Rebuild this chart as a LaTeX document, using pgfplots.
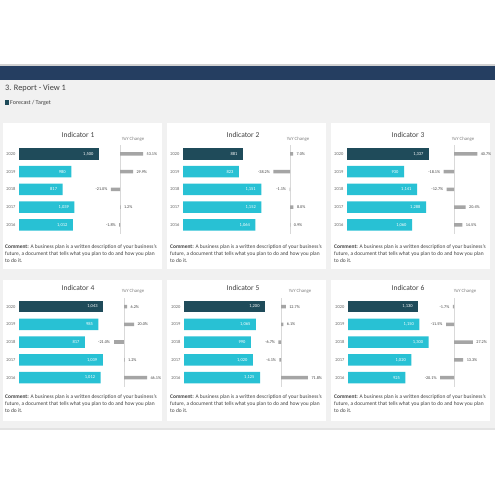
\documentclass[border=0pt]{standalone}
\usepackage{pgfplots}
\pgfplotsset{compat=1.18}
\usepackage{pgfplotstable}
\usepackage{fontspec}
\setmainfont{Carlito}

\definecolor{navy}{RGB}{37,62,97}
\definecolor{bgg}{RGB}{241,241,241}
\definecolor{darkbar}{RGB}{31,75,90}
\definecolor{cyanbar}{RGB}{40,193,212}
\definecolor{yoyg}{RGB}{165,165,165}
\definecolor{txt}{RGB}{64,64,64}

\pgfplotstableread{
y val yoy
4 1500 53.1
3 980 29.9
2 817 -21.0
1 1039 1.2
0 1012 -1.8
}\dataA
\pgfplotstableread{
y val yoy
4 881 7.0
3 823 -38.2
2 1151 -1.1
1 1152 8.0
0 1064 0.9
}\dataB
\pgfplotstableread{
y val yoy
4 1337 40.7
3 930 -18.1
2 1141 -12.7
1 1288 20.4
0 1060 14.5
}\dataC
\pgfplotstableread{
y val yoy
4 1043 6.2
3 985 20.0
2 817 -21.0
1 1039 1.2
0 1012 46.1
}\dataD
\pgfplotstableread{
y val yoy
4 1200 12.7
3 1065 6.1
2 990 -6.7
1 1020 -4.1
0 1125 71.8
}\dataE
\pgfplotstableread{
y val yoy
4 1130 -1.7
3 1150 -11.5
2 1300 27.2
1 1020 13.3
0 925 -20.1
}\dataF

\pgfplotsset{
 /pgf/number format/assume math mode=true,
 barax/.style={scale only axis, width=100pt, height=88.75pt, xmin=0, ymin=-0.5, ymax=4.5,
   xtick=\empty, ytick={0,1,2,3,4}, yticklabels={2016,2017,2018,2019,2020},
   yticklabel style={font=\fontsize{4.5}{5}\selectfont, text=txt!80},
   major tick length=0pt, axis line style={draw=none}, clip=false, anchor=north west},
 yoyax/.style={scale only axis, width=60pt, height=88.75pt, ymin=-0.5, ymax=4.5,
   hide axis, clip=false, anchor=north west},
 valbar/.style={xbar, bar width=11.5pt, bar shift=0pt, draw=none, point meta=x,
   nodes near coords={\pgfmathprintnumber[assume math mode=true,fixed,precision=0,1000 sep={,}]{\pgfplotspointmeta}},
   nodes near coords style={anchor=east, text=white, font=\fontsize{4.5}{5}\selectfont, xshift=-2pt}},
 yoypos/.style={xbar, bar width=3.5pt, bar shift=0pt, fill=yoyg, draw=none, point meta=x,
   restrict x to domain=0:1000,
   nodes near coords={\pgfmathprintnumber[assume math mode=true,fixed,fixed zerofill,precision=1]{\pgfplotspointmeta}\%},
   nodes near coords style={anchor=west, text=txt, font=\fontsize{4.2}{5}\selectfont}},
 yoyneg/.style={xbar, bar width=3.5pt, bar shift=0pt, fill=yoyg, draw=none, point meta=x,
   restrict x to domain=-1000:0,
   nodes near coords={\pgfmathprintnumber[assume math mode=true,fixed,fixed zerofill,precision=1]{\pgfplotspointmeta}\%},
   nodes near coords style={anchor=east, text=txt, font=\fontsize{4.2}{5}\selectfont}},
}

\newcommand{\panel}[7]{%
\begin{axis}[barax, at={(#2pt,#3pt)}, xmax=#4]
\addplot[valbar, fill=darkbar, restrict y to domain=3.5:4.5] table[x=val,y=y]{#1};
\addplot[valbar, fill=cyanbar, restrict y to domain=-0.5:3.5] table[x=val,y=y]{#1};
\end{axis}
\begin{axis}[yoyax, at={(#5pt,#3pt)}, xmin=#6, xmax=#7]
\addplot[gray!30, line width=0.7pt, mark=none] coordinates {(0,-0.5) (0,4.5)};
\addplot[yoypos] table[x=yoy,y=y]{#1};
\addplot[yoyneg] table[x=yoy,y=y]{#1};
\end{axis}}

\newcommand{\comment}{\textbf{Comment:} A business plan is a written description of your business's\\future, a document that tells what you plan to do and how you plan\\to do it.}

\begin{document}
\begin{tikzpicture}[x=1pt,y=1pt]
\useasboundingbox (0,0) rectangle (495,495);
\fill[white] (0,0) rectangle (495,495);
% header band and background
\fill[bgg] (0,67) rectangle (495,415);
\fill[gray!22] (0,64.5) rectangle (495,67);
\fill[navy] (0,415) rectangle (495,429);
\fill[gray!35] (0,429) rectangle (495,430.5);
\node[anchor=west, inner sep=0, font=\fontsize{8.3}{9}\selectfont, text=txt] at (5,407) {3. Report - View 1};
\fill[darkbar] (5,389.5) rectangle (8.5,395);
\node[anchor=west, inner sep=0, font=\fontsize{6}{7}\selectfont, text=txt] at (10,392.3) {Forecast / Target};
% cards
\foreach \cx in {3,167,331} {
  \fill[white] (\cx,226) rectangle ++(159,146);
  \fill[white] (\cx,74) rectangle ++(159,141);
}
% titles
\foreach \tx/\ty/\t in {78/360/1, 243/360/2, 408/360/3, 78/207/4, 243/207/5, 408/207/6}
  \node[font=\fontsize{7.5}{9}\selectfont, text=txt] at (\tx,\ty) {Indicator \t};
\foreach \tx/\ty in {133/356, 298/356, 463/356, 133/204, 300/204, 465/204}
  \node[font=\fontsize{4.8}{5}\selectfont, text=gray] at (\tx,\ty) {YoY Change};
% comments
\foreach \tx/\ty in {5/251, 170/251, 334/251, 5/100.5, 170/100.5, 334/100.5}
  \node[anchor=north west, align=left, inner sep=0, font=\fontsize{5.45}{7}\selectfont, text=txt] at (\tx,\ty) {\comment};
% panels
\panel{\dataA}{19}{349.9}{1875}{95}{-57.5}{80.5}
\panel{\dataB}{183}{349.9}{1470}{265}{-57.5}{80.5}
\panel{\dataC}{347}{349.9}{1630}{429}{-43.75}{61.25}
\panel{\dataD}{19}{197.2}{1240}{99}{-50}{70}
\panel{\dataE}{184}{197.2}{1480}{256}{-66.5}{93.1}
\panel{\dataF}{348}{197.2}{1610}{429}{-36}{50.4}
\end{tikzpicture}
\end{document}
